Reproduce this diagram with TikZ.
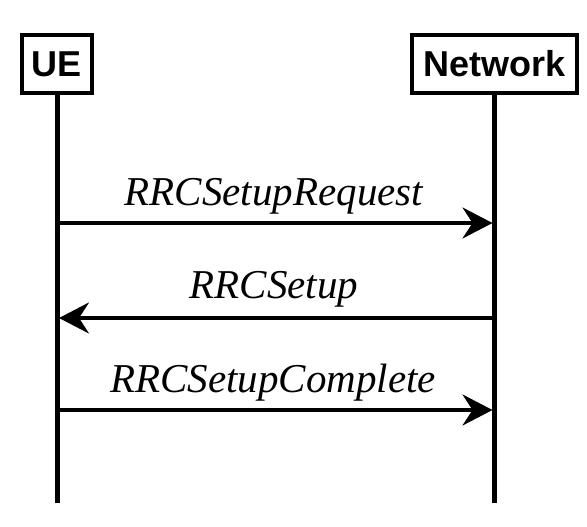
\documentclass[tikz,border=0pt]{standalone}
\usepackage{fontspec}
\setmainfont{Liberation Serif}
\setsansfont{Liberation Sans}
\usetikzlibrary{arrows.meta}
\tikzset{
  entity/.style={draw=black, line width=4pt, minimum height=58pt, inner sep=0pt,
    font=\sffamily\bfseries\fontsize{36}{40}\selectfont},
  lifeline/.style={line width=5pt},
  msg/.style={line width=3.5pt, -{Stealth[length=30pt,width=31pt,inset=10pt]}},
  msglabel/.style={anchor=base, inner sep=0pt, font=\itshape\fontsize{41}{46}\selectfont}
}
\begin{document}
\begin{tikzpicture}[x=1pt,y=-1pt]
  \useasboundingbox (0,0) rectangle (587,527);
  \node[entity, minimum width=70pt] (ue) at (57,64) {UE};
  \node[entity, minimum width=165pt] (net) at (494.5,64) {Network};
  \coordinate (ueend) at (57,503);
  \coordinate (netend) at (494.5,503);
  \draw[lifeline] (ue.south) -- (ueend);
  \draw[lifeline] (net.south) -- (netend);
  % message coordinates
  \coordinate (m1s) at (57,223);   \coordinate (m1e) at (492.5,223);
  \coordinate (m2s) at (494.5,318); \coordinate (m2e) at (59,318);
  \coordinate (m3s) at (57,410);   \coordinate (m3e) at (492.5,410);
  \draw[msg] (m1s) -- (m1e);
  \draw[msg] (m2s) -- (m2e);
  \draw[msg] (m3s) -- (m3e);
  \node[msglabel] (l1) at (274,205) {RRCSetupRequest};
  \node[msglabel] (l2) at (274,298) {RRCSetup};
  \node[msglabel] (l3) at (273,392) {RRCSetupComplete};
\end{tikzpicture}
\end{document}
